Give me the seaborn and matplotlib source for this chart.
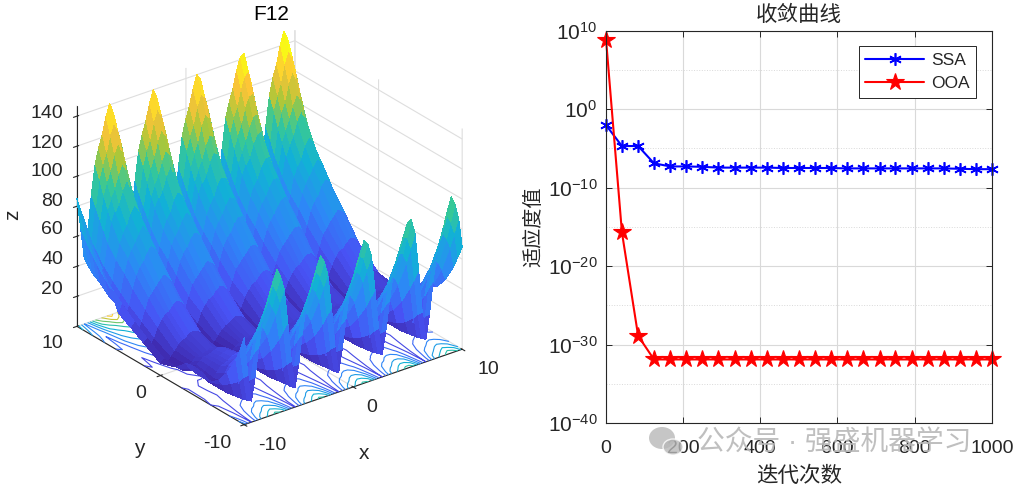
import numpy as np
import matplotlib
matplotlib.use("Agg")
import matplotlib.pyplot as plt
import seaborn as sns
from matplotlib.colors import LinearSegmentedColormap
from matplotlib.patches import Ellipse
from matplotlib.ticker import FixedLocator, LogFormatterMathtext, NullFormatter
from matplotlib.transforms import IdentityTransform

# surface, one row per y value, x runs -10..10 in steps of 1/3
grid_x = [-10 + i / 3 for i in range(61)]
grid_y = [-10, -9.5, -9, -8, -7, -6, -5, -4, -3, -2, 0, 2, 3.5, 5, 6, 7, 8, 8.5, 9, 9.5, 10]
grid_z = [
    [58, 32, 14, 29, 48, 65, 73, 80, 89, 96, 90, 81, 58, 31, 13, 28, 47, 64, 72, 79, 88, 95, 90, 81, 58, 31, 13, 28, 47, 64, 72, 79, 88, 95, 92, 83, 60, 33, 15, 30, 49, 66, 74, 81, 90, 97, 98, 88, 63, 34, 15, 31, 52, 70, 78, 86, 96, 104, 98, 88, 68],
    [48, 29, 13, 26, 43, 57, 64, 70, 78, 84, 79, 71, 51, 28, 12, 25, 42, 56, 63, 69, 77, 83, 79, 71, 51, 28, 12, 25, 42, 56, 63, 69, 77, 83, 81, 73, 53, 30, 14, 27, 44, 58, 65, 71, 79, 85, 85, 77, 55, 31, 14, 28, 46, 61, 68, 75, 83, 90, 85, 77, 60],
    [40, 25, 12, 23, 37, 49, 55, 60, 67, 72, 67, 61, 44, 24, 12, 22, 36, 48, 54, 59, 66, 71, 67, 61, 44, 24, 12, 22, 36, 48, 54, 59, 66, 71, 69, 63, 46, 26, 13, 24, 38, 50, 56, 61, 68, 73, 72, 66, 48, 27, 13, 24, 39, 52, 58, 64, 71, 77, 72, 66, 52],
    [28, 20, 11, 18, 28, 36, 41, 44, 49, 52, 49, 44, 33, 19, 11, 17, 27, 35, 40, 43, 48, 51, 49, 44, 33, 19, 11, 17, 27, 35, 40, 43, 48, 51, 51, 46, 35, 21, 12, 19, 29, 37, 42, 45, 50, 53, 53, 48, 36, 21, 12, 19, 30, 38, 43, 47, 52, 55, 53, 48, 40],
    [20, 16, 10, 15, 22, 27, 30, 32, 36, 38, 36, 33, 25, 16, 10, 15, 22, 27, 30, 32, 36, 38, 36, 33, 25, 16, 10, 15, 22, 27, 30, 32, 36, 38, 37, 34, 26, 17, 11, 16, 23, 28, 31, 33, 37, 39, 38, 35, 27, 17, 11, 16, 23, 29, 32, 34, 38, 40, 38, 35, 32],
    [15, 14, 10, 13, 18, 22, 24, 25, 27, 29, 28, 26, 20, 14, 10, 13, 18, 22, 24, 25, 27, 29, 28, 26, 20, 14, 10, 13, 18, 22, 24, 25, 27, 29, 29, 27, 21, 15, 11, 14, 19, 23, 25, 26, 28, 30, 30, 28, 21, 15, 11, 14, 19, 23, 25, 27, 29, 31, 30, 28, 28],
    [18, 13, 10, 12, 15, 18, 19, 20, 22, 23, 22, 21, 17, 13, 10, 12, 15, 18, 19, 20, 22, 23, 22, 21, 17, 13, 10, 12, 15, 18, 19, 20, 22, 23, 23, 22, 18, 14, 11, 13, 16, 19, 20, 21, 23, 24, 23, 22, 18, 14, 11, 13, 16, 19, 20, 21, 23, 24, 23, 22, 24],
    [19, 13, 11, 13, 16, 18, 19, 20, 21, 22, 21, 20, 17, 13, 11, 13, 16, 18, 19, 20, 21, 22, 21, 20, 17, 13, 11, 13, 16, 18, 19, 20, 21, 22, 22, 21, 18, 14, 12, 14, 17, 19, 20, 21, 22, 23, 22, 21, 18, 14, 12, 14, 17, 19, 20, 21, 22, 23, 22, 21, 23],
    [18, 14, 12, 14, 16, 18, 18, 19, 20, 21, 20, 19, 17, 14, 12, 14, 16, 18, 18, 19, 20, 21, 20, 19, 17, 14, 12, 14, 16, 18, 18, 19, 20, 21, 21, 20, 18, 15, 13, 15, 17, 19, 19, 20, 21, 22, 21, 20, 18, 15, 13, 15, 17, 19, 19, 20, 21, 22, 21, 20, 20],
    [12, 10, 8, 10, 12, 14, 14, 15, 16, 17, 16, 15, 13, 10, 8, 10, 12, 14, 14, 15, 16, 17, 16, 15, 13, 10, 8, 10, 12, 14, 14, 15, 16, 17, 17, 16, 14, 11, 9, 11, 13, 15, 15, 16, 17, 18, 17, 16, 14, 11, 9, 11, 13, 15, 15, 16, 17, 18, 17, 16, 16],
    [8, 10, 7, 10, 13, 16, 18, 19, 21, 22, 21, 19, 15, 10, 7, 10, 13, 16, 18, 19, 21, 22, 21, 19, 15, 10, 7, 10, 13, 16, 18, 19, 21, 22, 22, 20, 16, 11, 8, 11, 14, 17, 19, 20, 22, 23, 22, 20, 16, 11, 8, 11, 14, 17, 19, 20, 22, 23, 22, 20, 18],
    [15, 17, 12, 16, 22, 26, 29, 30, 33, 35, 34, 31, 25, 17, 12, 16, 22, 26, 29, 30, 33, 35, 34, 31, 25, 17, 12, 16, 22, 26, 29, 30, 33, 35, 35, 32, 26, 18, 13, 17, 23, 27, 30, 31, 34, 36, 36, 33, 27, 18, 13, 17, 23, 28, 31, 32, 35, 37, 36, 33, 28],
    [20, 23, 16, 22, 29, 36, 39, 42, 45, 48, 45, 42, 33, 22, 15, 21, 28, 35, 38, 41, 44, 47, 45, 42, 33, 22, 15, 21, 28, 35, 38, 41, 44, 47, 47, 44, 35, 24, 17, 23, 30, 37, 40, 43, 46, 49, 49, 46, 36, 24, 17, 23, 31, 38, 41, 45, 48, 51, 49, 46, 26],
    [25, 30, 21, 28, 38, 46, 51, 54, 59, 62, 59, 54, 43, 29, 20, 27, 37, 45, 50, 53, 58, 61, 59, 54, 43, 29, 20, 27, 37, 45, 50, 53, 58, 61, 61, 56, 45, 31, 22, 29, 39, 47, 52, 55, 60, 63, 64, 58, 47, 32, 22, 30, 40, 49, 54, 57, 63, 66, 64, 58, 47],
    [38, 35, 25, 33, 45, 54, 59, 63, 68, 72, 68, 63, 50, 34, 24, 32, 44, 53, 58, 62, 67, 71, 68, 63, 50, 34, 24, 32, 44, 53, 58, 62, 67, 71, 70, 65, 52, 36, 26, 34, 46, 55, 60, 64, 69, 73, 73, 68, 54, 37, 26, 35, 48, 57, 63, 67, 72, 76, 73, 68, 58],
    [48, 40, 28, 38, 51, 61, 67, 71, 78, 82, 78, 72, 57, 39, 27, 37, 50, 60, 66, 70, 77, 81, 78, 72, 57, 39, 27, 37, 50, 60, 66, 70, 77, 81, 80, 74, 59, 41, 29, 39, 52, 62, 68, 72, 79, 83, 84, 77, 61, 42, 30, 40, 54, 65, 71, 75, 83, 87, 84, 77, 65],
    [58, 47, 33, 44, 59, 72, 78, 83, 91, 96, 91, 84, 67, 46, 32, 43, 58, 71, 77, 82, 90, 95, 91, 84, 67, 46, 32, 43, 58, 71, 77, 82, 90, 95, 93, 86, 69, 48, 34, 45, 60, 73, 79, 84, 92, 97, 98, 90, 72, 50, 35, 47, 63, 76, 83, 88, 97, 102, 98, 90, 73],
    [65, 51, 35, 48, 65, 79, 86, 92, 100, 106, 101, 93, 73, 50, 34, 47, 64, 78, 85, 91, 99, 105, 101, 93, 73, 50, 34, 47, 64, 78, 85, 91, 99, 105, 103, 95, 75, 52, 36, 49, 66, 80, 87, 93, 101, 107, 108, 100, 78, 54, 37, 51, 69, 84, 91, 98, 106, 112, 108, 100, 80],
    [72, 55, 37, 52, 71, 87, 95, 102, 112, 118, 112, 103, 81, 54, 36, 51, 70, 86, 94, 101, 111, 117, 112, 103, 81, 54, 36, 51, 70, 86, 94, 101, 111, 117, 114, 105, 83, 56, 38, 53, 72, 88, 96, 103, 113, 119, 120, 110, 87, 58, 39, 55, 75, 92, 101, 108, 119, 125, 120, 110, 88],
    [78, 60, 40, 56, 78, 96, 105, 112, 123, 130, 124, 114, 89, 59, 39, 55, 77, 95, 104, 111, 122, 129, 124, 114, 89, 59, 39, 55, 77, 95, 104, 111, 122, 129, 126, 116, 91, 61, 41, 57, 79, 97, 106, 113, 124, 131, 133, 122, 95, 64, 42, 59, 83, 102, 111, 119, 130, 138, 133, 122, 100],
    [85, 65, 44, 61, 85, 104, 114, 122, 133, 141, 134, 123, 96, 64, 43, 60, 84, 103, 113, 121, 132, 140, 134, 123, 96, 64, 43, 60, 84, 103, 113, 121, 132, 140, 136, 125, 98, 66, 45, 62, 86, 105, 115, 123, 134, 142, 143, 131, 103, 69, 47, 65, 90, 110, 121, 129, 141, 149, 143, 131, 113],
]

x_ticks = [-10, 0, 10]
y_ticks = [-10, 0, 10]
z_ticks = [20, 40, 60, 80, 100, 120, 140]

iterations = [1, 42, 84, 125, 167, 209, 250, 292, 334, 375, 417, 459, 500,
              542, 584, 625, 667, 709, 750, 792, 834, 875, 917, 959, 1000]
ssa_exp = [-2.05, -4.7, -4.7, -6.9, -7.3, -7.3, -7.35, -7.45, -7.45, -7.45, -7.45, -7.5, -7.5,
           -7.5, -7.5, -7.55, -7.55, -7.55, -7.55, -7.55, -7.55, -7.55, -7.6, -7.65, -7.65]
ooa_exp = [8.8, -15.7, -28.9, -31.9, -31.9, -31.9, -31.9, -31.9, -31.9, -31.9, -31.9, -31.9, -31.9,
           -31.9, -31.9, -31.9, -31.9, -31.9, -31.9, -31.9, -31.9, -31.9, -31.9, -31.9, -31.9]

parula_stops = [0, 0.125, 0.3, 0.5, 0.65, 0.76, 0.88, 1]
parula_colors = [(0.2422, 0.1504, 0.6603), (0.2810, 0.3228, 0.9579), (0.1786, 0.5289, 0.9682),
                 (0.0689, 0.6948, 0.8394), (0.2161, 0.7843, 0.5923), (0.6720, 0.7793, 0.2227),
                 (0.9970, 0.7659, 0.2199), (0.9769, 0.9839, 0.0805)]

sns.set_style("white")
plt.rcParams['font.family'] = ['Liberation Sans', 'Noto Sans CJK SC']
plt.rcParams['mathtext.default'] = 'regular'
plt.rcParams['axes.unicode_minus'] = False

dark = (0.15, 0.15, 0.15)
parula = LinearSegmentedColormap.from_list("parula", list(zip(parula_stops, parula_colors)))
fig = plt.figure(figsize=(10.18, 4.86), dpi=100)


def px_text(x, y, s, **kw):
    # text placed in pixels from the top left corner
    kw.setdefault('ha', 'center')
    kw.setdefault('va', 'center')
    kw.setdefault('color', dark)
    return fig.text(x / 1018, 1 - y / 486, s, **kw)


# left panel
ax = fig.add_axes([-2 / 1018, 9 / 486, 530 / 1018, 1.0], projection='3d', computed_zorder=False)
X, Y = np.meshgrid(grid_x, grid_y)
Z = np.array(grid_z, dtype=float)
ax.contour(X, Y, Z, levels=10, zdir='z', offset=0, cmap=parula, linewidths=0.8, zorder=1)
surf = ax.plot_surface(X, Y, Z, cmap=parula, rstride=1, cstride=1, linewidth=0, antialiased=False,
                       shade=False, zorder=2)
ax.set_proj_type('ortho')
ax.view_init(elev=26.8, azim=-127.5)
ax.set_box_aspect((1, 1, 0.9), zoom=0.92)
ax.set_xlim(-10, 10)
ax.set_ylim(-10, 10)
ax.set_zlim(0, 147)
ax.set_xticks(x_ticks)
ax.set_yticks(y_ticks)
ax.set_zticks(z_ticks)
ax.set_xticklabels([])
ax.set_yticklabels([])
ax.set_zticklabels([])
for a in (ax.xaxis, ax.yaxis, ax.zaxis):
    a.set_pane_color((1, 1, 1, 0))
    a._axinfo["grid"].update(color=(0.87, 0.87, 0.87), linewidth=0.8)
    a.line.set_color(dark)
ax.zaxis.set_ticks_position('upper')

for v, (px, py) in zip(x_ticks, [(272, 445), (372, 407), (488, 369)]):
    px_text(px, py, str(v), fontsize=14)
for v, (px, py) in zip(y_ticks, [(217, 443), (141, 393), (52, 343)]):
    px_text(px, py, str(v), fontsize=14)
for v, py in zip(z_ticks, [289, 260, 230, 202, 172, 143, 114]):
    px_text(63, py, str(v), fontsize=14, ha='right')
px_text(271, 15, "F12", fontsize=15, color='k')
px_text(13, 215, "z", fontsize=15, rotation=90)
px_text(139, 448, "y", fontsize=15)
px_text(364, 453, "x", fontsize=15)

# right panel
ax2 = fig.add_axes([605.7 / 1018, 1 - 423 / 486, (992 - 605.7) / 1018, (423 - 30.7) / 486])
ssa = [10.0 ** e for e in ssa_exp]
ooa = [10.0 ** e for e in ooa_exp]
sns.lineplot(x=iterations, y=ssa, ax=ax2, color='b', label='SSA', marker=(6, 2, 0), markersize=9,
             markeredgecolor='b', markeredgewidth=1.2, linewidth=1.5, errorbar=None, clip_on=False)
sns.lineplot(x=iterations, y=ooa, ax=ax2, color='r', label='OOA', marker='*', markersize=13,
             markeredgecolor='r', markeredgewidth=0.8, linewidth=1.5, errorbar=None, clip_on=False)
ax2.set_yscale('log')
ax2.set_xlim(0, 1000)
ax2.set_ylim(1e-40, 1e10)
ax2.set_xticks([0, 200, 400, 600, 800, 1000])
ax2.yaxis.set_major_locator(FixedLocator([1e-40, 1e-30, 1e-20, 1e-10, 1e0, 1e10]))
ax2.yaxis.set_major_formatter(LogFormatterMathtext())
ax2.yaxis.set_minor_locator(FixedLocator([1e-35, 1e-25, 1e-15, 1e-5, 1e5]))
ax2.yaxis.set_minor_formatter(NullFormatter())
ax2.grid(True, which='major', color=(0.85, 0.85, 0.85), linewidth=0.8)
ax2.grid(True, which='minor', axis='y', color=(0.85, 0.85, 0.85), linewidth=0.7, linestyle=':')
ax2.tick_params(which='major', direction='in', length=4, width=0.7, top=True, right=True,
                bottom=True, left=True, labelsize=14, colors=dark)
ax2.tick_params(which='major', axis='y', labelsize=15, pad=6)
ax2.tick_params(which='major', axis='x', pad=12)
ax2.tick_params(which='minor', length=0)
for s in ax2.spines.values():
    s.set_visible(True)
    s.set_color(dark)
    s.set_linewidth(0.8)
ax2.set_title("收敛曲线", fontsize=15.5, color=dark, pad=7)
ax2.set_xlabel("迭代次数", fontsize=15.5, color=dark, labelpad=7)
ax2.set_ylabel("适应度值", fontsize=14.5, color=dark, labelpad=3)
leg = ax2.legend(loc='upper right', bbox_to_anchor=(0.958, 0.96), fontsize=12.5, fancybox=False, framealpha=1,
                 edgecolor=dark, borderaxespad=0, handlelength=3.4, handletextpad=0.4, borderpad=0.35)
leg.get_frame().set_linewidth(0.7)

# watermark
gray = (0.72, 0.72, 0.72)
fig.add_artist(Ellipse((662, 486 - 438), 26, 22, transform=IdentityTransform(), facecolor=gray, edgecolor='none', alpha=0.8))
fig.add_artist(Ellipse((673, 486 - 447), 20, 16, transform=IdentityTransform(), facecolor=gray, edgecolor='w', lw=1, alpha=0.8))
px_text(697, 444, "公众号 · 强盛机器学习", fontsize=20, color=gray, ha='left', alpha=0.9, zorder=0)

fig.savefig("out.png", dpi=100)
